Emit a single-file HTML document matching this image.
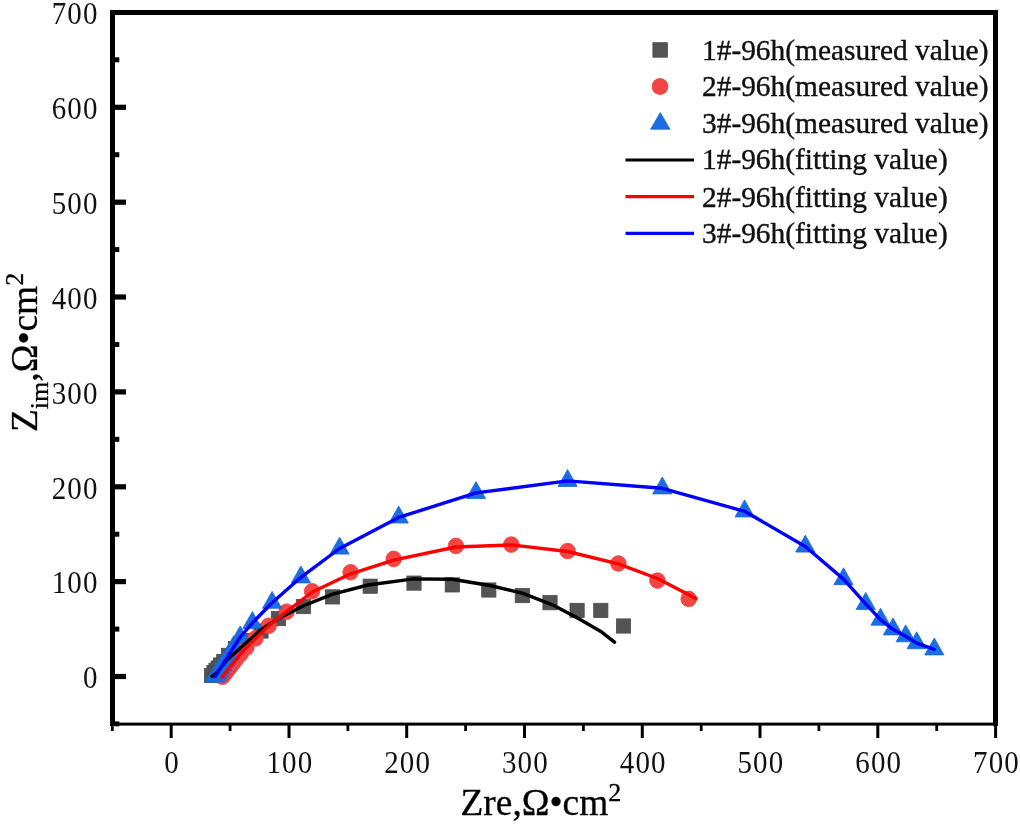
<!DOCTYPE html>
<html lang="en">
<head>
<meta charset="utf-8">
<title>Nyquist plot</title>
<style>
html,body{margin:0;padding:0;background:#fff;}
body{width:1020px;height:825px;overflow:hidden;}
svg{display:block;}
text{font-family:"Liberation Serif",serif;fill:#111;}
.tick{font-size:31px;letter-spacing:1.2px;}
.leg{font-size:29.4px;fill:#000;stroke:#000;stroke-width:0.35px;}
.axl{font-size:37.4px;fill:#000;stroke:#000;stroke-width:0.3px;}
</style>
</head>
<body>
<svg width="1020" height="825" viewBox="0 0 1020 825">
<rect x="0" y="0" width="1020" height="825" fill="#ffffff"/>

<g fill="#545454" stroke="#4b4b4b" stroke-width="0.8">
<rect x="204.5" y="668.4" width="14.2" height="14.2"/>
<rect x="206.9" y="665.4" width="14.2" height="14.2"/>
<rect x="208.9" y="663.2" width="14.2" height="14.2"/>
<rect x="211.1" y="660.9" width="14.2" height="14.2"/>
<rect x="213.5" y="657.9" width="14.2" height="14.2"/>
<rect x="216.7" y="654.4" width="14.2" height="14.2"/>
<rect x="221.5" y="648.3" width="14.2" height="14.2"/>
<rect x="228.4" y="641.4" width="14.2" height="14.2"/>
<rect x="238.9" y="633.4" width="14.2" height="14.2"/>
<rect x="253.9" y="623.9" width="14.2" height="14.2"/>
<rect x="271.3" y="611.5" width="14.2" height="14.2"/>
<rect x="296.3" y="599.5" width="14.2" height="14.2"/>
<rect x="325.4" y="589.8" width="14.2" height="14.2"/>
<rect x="363.1" y="579.1" width="14.2" height="14.2"/>
<rect x="406.9" y="576.0" width="14.2" height="14.2"/>
<rect x="445.2" y="577.8" width="14.2" height="14.2"/>
<rect x="481.7" y="582.9" width="14.2" height="14.2"/>
<rect x="515.2" y="588.5" width="14.2" height="14.2"/>
<rect x="542.9" y="595.6" width="14.2" height="14.2"/>
<rect x="570.0" y="603.3" width="14.2" height="14.2"/>
<rect x="593.7" y="603.3" width="14.2" height="14.2"/>
<rect x="616.4" y="618.9" width="14.2" height="14.2"/>
</g>
<g fill="#f44545" stroke="#ec3d3d" stroke-width="0.8">
<circle cx="222.3" cy="676.8" r="7.8"/>
<circle cx="224.0" cy="674.6" r="7.8"/>
<circle cx="225.7" cy="672.4" r="7.8"/>
<circle cx="227.6" cy="670.0" r="7.8"/>
<circle cx="229.8" cy="667.2" r="7.8"/>
<circle cx="232.5" cy="664.0" r="7.8"/>
<circle cx="236.0" cy="659.6" r="7.8"/>
<circle cx="240.5" cy="654.2" r="7.8"/>
<circle cx="246.4" cy="647.6" r="7.8"/>
<circle cx="255.5" cy="638.4" r="7.8"/>
<circle cx="268.7" cy="625.7" r="7.8"/>
<circle cx="286.6" cy="611.7" r="7.8"/>
<circle cx="312.1" cy="591.3" r="7.8"/>
<circle cx="350.6" cy="572.2" r="7.8"/>
<circle cx="393.7" cy="558.9" r="7.8"/>
<circle cx="455.9" cy="545.9" r="7.8"/>
<circle cx="511.3" cy="544.6" r="7.8"/>
<circle cx="567.6" cy="551.0" r="7.8"/>
<circle cx="618.4" cy="563.5" r="7.8"/>
<circle cx="657.4" cy="580.6" r="7.8"/>
<circle cx="688.7" cy="598.9" r="7.8"/>
</g>
<g fill="#1b6ee2" stroke="#1766d8" stroke-width="0.8" stroke-linejoin="miter">
<polygon points="215.0,665.2 205.4,682.1 224.6,682.1"/>
<polygon points="216.0,663.7 206.4,680.6 225.6,680.6"/>
<polygon points="217.2,661.9 207.6,678.8 226.8,678.8"/>
<polygon points="218.6,659.7 209.0,676.6 228.2,676.6"/>
<polygon points="220.3,657.1 210.7,674.0 229.9,674.0"/>
<polygon points="222.5,653.7 212.9,670.6 232.1,670.6"/>
<polygon points="225.3,649.2 215.7,666.1 234.9,666.1"/>
<polygon points="229.0,643.3 219.4,660.2 238.6,660.2"/>
<polygon points="233.8,635.7 224.2,652.6 243.4,652.6"/>
<polygon points="240.2,625.9 230.6,642.8 249.8,642.8"/>
<polygon points="252.4,611.6 242.8,628.5 262.0,628.5"/>
<polygon points="272.1,591.4 262.5,608.3 281.7,608.3"/>
<polygon points="300.9,566.0 291.3,582.9 310.5,582.9"/>
<polygon points="339.6,537.2 330.0,554.1 349.2,554.1"/>
<polygon points="398.7,506.1 389.1,523.0 408.3,523.0"/>
<polygon points="476.0,481.6 466.4,498.5 485.6,498.5"/>
<polygon points="567.6,469.6 558.0,486.5 577.2,486.5"/>
<polygon points="662.3,477.0 652.7,493.9 671.9,493.9"/>
<polygon points="744.6,500.0 735.0,516.9 754.2,516.9"/>
<polygon points="805.3,535.2 795.7,552.1 814.9,552.1"/>
<polygon points="843.5,567.8 833.9,584.7 853.1,584.7"/>
<polygon points="865.7,592.5 856.1,609.4 875.3,609.4"/>
<polygon points="880.5,608.3 870.9,625.2 890.1,625.2"/>
<polygon points="893.0,618.0 883.4,634.9 902.6,634.9"/>
<polygon points="905.7,624.9 896.1,641.8 915.3,641.8"/>
<polygon points="916.7,631.8 907.1,648.7 926.3,648.7"/>
<polygon points="934.3,638.0 924.7,654.9 943.9,654.9"/>
</g>
<polyline points="212.0,676.3 214.6,674.4 217.6,672.0 221.3,667.0 224.8,662.4 227.8,659.2 233.8,654.0 240.1,648.3 246.4,642.6 252.7,637.0 261.0,629.7 278.0,618.8 303.0,606.0 332.0,594.3 368.0,585.0 413.7,578.9 452.2,579.3 489.8,585.5 523.0,593.3 552.5,604.8 578.4,618.6 600.4,631.2 614.5,642.2" fill="none" stroke="#000" stroke-width="3.4" stroke-linecap="round" stroke-linejoin="round"/>
<polyline points="222.3,676.8 224.0,674.6 225.7,672.4 227.6,670.0 229.8,667.2 232.5,664.0 236.0,659.6 240.5,654.2 246.4,647.6 255.5,638.4 268.7,625.7 286.6,611.7 312.3,592.0 350.8,573.8 393.6,560.1 455.9,547.0 511.3,544.9 567.5,551.5 618.4,563.9 657.4,578.5 696.0,598.6" fill="none" stroke="#ff0000" stroke-width="3.4" stroke-linecap="round" stroke-linejoin="round"/>
<polyline points="215.0,676.5 216.0,675.0 217.2,673.2 218.6,671.0 220.3,668.4 222.5,665.0 225.3,660.5 229.0,654.6 233.8,647.0 240.2,637.2 252.4,622.9 272.1,602.7 300.9,577.3 339.6,548.5 398.7,517.4 476.0,492.9 567.6,480.9 662.3,488.3 744.6,511.3 805.3,546.5 843.5,579.1 865.7,603.8 880.5,619.6 893.0,629.3 905.7,636.2 916.7,643.1 934.3,649.3" fill="none" stroke="#0000ff" stroke-width="3.4" stroke-linecap="round" stroke-linejoin="round"/>
<g fill="#000">
<rect x="110" y="10" width="5" height="716"/>
<rect x="110" y="10" width="888" height="5"/>
<rect x="993" y="10" width="5" height="716"/>
<rect x="110" y="722.6" width="888" height="3"/>
<rect x="115" y="673.9" width="11" height="5.2"/>
<rect x="169.7" y="724" width="3" height="14"/>
<rect x="115" y="579.0" width="11" height="5.2"/>
<rect x="287.5" y="724" width="3" height="14"/>
<rect x="115" y="484.2" width="11" height="5.2"/>
<rect x="405.2" y="724" width="3" height="14"/>
<rect x="115" y="389.3" width="11" height="5.2"/>
<rect x="523.0" y="724" width="3" height="14"/>
<rect x="115" y="294.4" width="11" height="5.2"/>
<rect x="640.8" y="724" width="3" height="14"/>
<rect x="115" y="199.6" width="11" height="5.2"/>
<rect x="758.5" y="724" width="3" height="14"/>
<rect x="115" y="104.7" width="11" height="5.2"/>
<rect x="876.3" y="724" width="3" height="14"/>
<rect x="994.1" y="724" width="3" height="14"/>
<rect x="110.9" y="724" width="2.8" height="7"/>
<rect x="115" y="626.6" width="4.3" height="5"/>
<rect x="228.7" y="724" width="2.8" height="7"/>
<rect x="115" y="531.7" width="4.3" height="5"/>
<rect x="346.5" y="724" width="2.8" height="7"/>
<rect x="115" y="436.8" width="4.3" height="5"/>
<rect x="464.2" y="724" width="2.8" height="7"/>
<rect x="115" y="342.0" width="4.3" height="5"/>
<rect x="582.0" y="724" width="2.8" height="7"/>
<rect x="115" y="247.1" width="4.3" height="5"/>
<rect x="699.8" y="724" width="2.8" height="7"/>
<rect x="115" y="152.2" width="4.3" height="5"/>
<rect x="817.5" y="724" width="2.8" height="7"/>
<rect x="115" y="57.3" width="4.3" height="5"/>
<rect x="935.3" y="724" width="2.8" height="7"/>
<rect x="115" y="721.4" width="4.3" height="5"/>
</g>
<g class="tick">
<text transform="translate(98.6,688.2) scale(0.935,1)" text-anchor="end">0</text>
<text transform="translate(98.6,593.3) scale(0.935,1)" text-anchor="end">100</text>
<text transform="translate(98.6,498.5) scale(0.935,1)" text-anchor="end">200</text>
<text transform="translate(98.6,403.6) scale(0.935,1)" text-anchor="end">300</text>
<text transform="translate(98.6,308.7) scale(0.935,1)" text-anchor="end">400</text>
<text transform="translate(98.6,213.9) scale(0.935,1)" text-anchor="end">500</text>
<text transform="translate(98.6,119.0) scale(0.935,1)" text-anchor="end">600</text>
<text transform="translate(98.6,24.1) scale(0.935,1)" text-anchor="end">700</text>
<text transform="translate(172.1,773.1) scale(0.935,1)" text-anchor="middle">0</text>
<text transform="translate(289.9,773.1) scale(0.935,1)" text-anchor="middle">100</text>
<text transform="translate(407.6,773.1) scale(0.935,1)" text-anchor="middle">200</text>
<text transform="translate(525.4,773.1) scale(0.935,1)" text-anchor="middle">300</text>
<text transform="translate(643.2,773.1) scale(0.935,1)" text-anchor="middle">400</text>
<text transform="translate(760.9,773.1) scale(0.935,1)" text-anchor="middle">500</text>
<text transform="translate(878.7,773.1) scale(0.935,1)" text-anchor="middle">600</text>
<text transform="translate(996.5,773.1) scale(0.935,1)" text-anchor="middle">700</text>
</g>
<text class="axl" x="460.5" y="815">Zre,Ω•cm<tspan font-size="26" dy="-14.5">2</tspan></text>
<text class="axl" transform="translate(37.3,432) rotate(-90)">Z<tspan font-size="26" dy="10.5">im</tspan><tspan dy="-10.5">,Ω•cm</tspan><tspan font-size="26" dy="-14.5">2</tspan></text>
<rect x="652.9" y="42.7" width="14.5" height="14.5" fill="#545454" stroke="#4b4b4b" stroke-width="0.8"/>
<circle cx="660" cy="86.5" r="8" fill="#f44545" stroke="#ec3d3d" stroke-width="0.8"/>
<polygon points="660.3,112.6 650.6,129.2 670,129.2" fill="#1b6ee2" stroke="#1766d8" stroke-width="0.8"/>
<g stroke-width="3.2" stroke-linecap="butt">
<line x1="625.5" y1="160" x2="694" y2="160" stroke="#000"/>
<line x1="625.5" y1="196.6" x2="694" y2="196.6" stroke="#ff0000"/>
<line x1="625.5" y1="233.3" x2="694" y2="233.3" stroke="#0000ff"/>
</g>
<g class="leg">
<text x="702" y="59.5">1#-96h(measured value)</text>
<text x="702" y="95.9">2#-96h(measured value)</text>
<text x="702" y="132.7">3#-96h(measured value)</text>
<text x="702" y="169.4">1#-96h(fitting value)</text>
<text x="702" y="206.5">2#-96h(fitting value)</text>
<text x="702" y="242.8">3#-96h(fitting value)</text>
</g>
</svg>
</body>
</html>
